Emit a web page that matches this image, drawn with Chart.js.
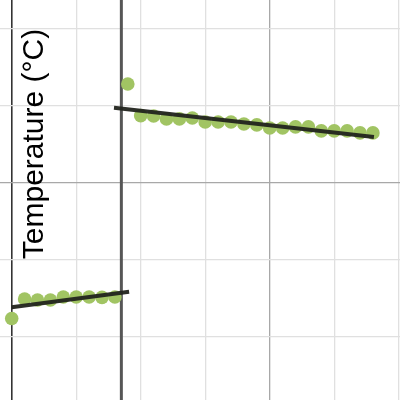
<!DOCTYPE html>
<html>
<head>
<meta charset="utf-8">
<script src="https://cdn.jsdelivr.net/npm/chart.js@4/dist/chart.umd.min.js"></script>
<style>
    html, body { margin: 0; padding: 0; background: #fff; }
    #wrap { width: 400px; height: 400px; }
</style>
</head>
<body>
<div id="wrap">
    <canvas id="tempChartCanvas"></canvas>
</div>
<script>
// readings before the switch (left group)
const timeBefore = [0, 1, 2, 3, 4, 5, 6, 7, 8];
const tempBefore = [31.2, 32.47, 32.4, 32.4, 32.6, 32.6, 32.6, 32.57, 32.6];

// readings after the switch (right group, first one is the spike)
const timeAfter = [9, 10, 11, 12, 13, 14, 15, 16, 17, 18, 19, 20, 21, 22, 23, 24, 25, 26, 27, 28];
const tempAfter = [46.43, 44.37, 44.35, 44.16, 44.16, 44.22, 43.96, 43.96, 43.96, 43.83,
    43.77, 43.57, 43.57, 43.64, 43.64, 43.38, 43.38, 43.38, 43.25, 43.25];

// fitted lines, start and end points
const fitBeforeX = [0, 9.1];
const fitBeforeY = [31.93, 32.94];
const fitAfterX = [7.93, 28.08];
const fitAfterY = [44.89, 42.99];

// vertical marker where the switch happens
const switchTime = 8.5;

const axisLabel = "Temperature (°C)";

const xRange = [-0.907, 30.1];
const yRange = [25.91, 51.88];

function toPoints(xs, ys) {
    let pts = [];
    for (let i = 0; i < xs.length; i++) {
        pts.push({ x: xs[i], y: ys[i] });
    }
    return pts;
}

function gridColor(major) {
    return function (ctx) {
        const v = ctx.tick.value;
        if (Math.abs(v) < 1e-9) return "#333";
        if (Math.abs(v % 5) > 1e-9) return "rgba(0,0,0,0)";
        if (Math.abs(v % major) < 1e-9) return "#a8a8a8";
        return "#e0e0e0";
    };
}

function gridWidth(ctx) {
    return Math.abs(ctx.tick.value) < 1e-9 ? 1.6 : 1.3;
}

// thick switch line and the rotated label
const extrasPlugin = {
    id: "extras",
    beforeDatasetsDraw(chart) {
        const c = chart.ctx;
        const area = chart.chartArea;
        const x = chart.scales.x.getPixelForValue(switchTime);
        c.save();
        c.strokeStyle = "#565656";
        c.lineWidth = 3;
        c.beginPath();
        c.moveTo(x, area.top);
        c.lineTo(x, area.bottom);
        c.stroke();

        c.translate(area.left + 43, area.top + 144);
        c.rotate(-Math.PI / 2);
        c.fillStyle = "#000";
        c.font = "30px 'Liberation Sans', Arial, sans-serif";
        c.textAlign = "center";
        c.textBaseline = "alphabetic";
        c.fillText(axisLabel, 0, 0);
        c.restore();
    }
};

const pointStyle = {
    type: "scatter",
    backgroundColor: "#a1c463",
    borderWidth: 0,
    pointRadius: 6.8,
    pointHoverRadius: 6.8,
    order: 2
};

const lineStyle = {
    type: "line",
    borderColor: "rgba(34,36,30,0.95)",
    borderWidth: 4,
    pointRadius: 0,
    fill: false,
    order: 1
};

new Chart(document.querySelector("#tempChartCanvas"), {
    data: {
        datasets: [
            Object.assign({ data: toPoints(timeBefore, tempBefore) }, pointStyle),
            Object.assign({ data: toPoints(timeAfter, tempAfter) }, pointStyle),
            Object.assign({ data: toPoints(fitBeforeX, fitBeforeY) }, lineStyle),
            Object.assign({ data: toPoints(fitAfterX, fitAfterY) }, lineStyle)
        ]
    },
    options: {
        responsive: true,
        maintainAspectRatio: false,
        animation: false,
        layout: { padding: 0, autoPadding: false },
        plugins: {
            legend: { display: false },
            tooltip: { enabled: false }
        },
        scales: {
            x: {
                type: "linear",
                min: xRange[0],
                max: xRange[1],
                border: { display: false },
                ticks: { display: false, stepSize: 5, includeBounds: false },
                grid: { color: gridColor(20), lineWidth: gridWidth, drawTicks: false }
            },
            y: {
                type: "linear",
                min: yRange[0],
                max: yRange[1],
                border: { display: false },
                ticks: { display: false, stepSize: 5, includeBounds: false },
                grid: { color: gridColor(20), lineWidth: gridWidth, drawTicks: false }
            }
        }
    },
    plugins: [extrasPlugin]
});
</script>
</body>
</html>
